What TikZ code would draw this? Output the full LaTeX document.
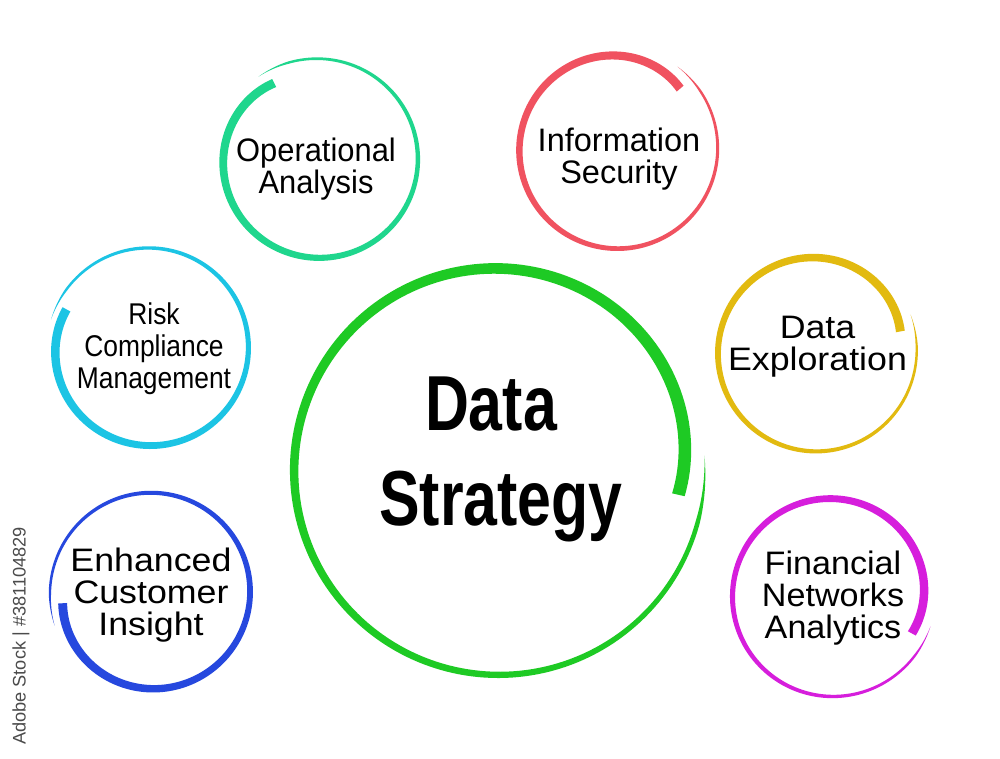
\documentclass[tikz,border=0pt]{standalone}
\usepackage{fontspec}
\setmainfont{Liberation Sans}
\newfontfamily\ringfont{Liberation Sans}
\newfontfamily\hubfont[FakeStretch=0.78]{Liberation Sans}
\usepackage{xcolor}
\definecolor{hubgreen}{RGB}{30,202,36}
\definecolor{opsteal}{RGB}{31,214,141}
\definecolor{secred}{RGB}{240,82,96}
\definecolor{riskcyan}{RGB}{28,196,228}
\definecolor{explgold}{RGB}{226,186,16}
\definecolor{enhblue}{RGB}{38,72,222}
\definecolor{finpink}{RGB}{214,30,220}
\definecolor{stockgray}{RGB}{75,75,75}

% brush ring: centre, radius, start angle, sweep, colour, curl, drift, thick width, thin width
\newcommand{\brushring}[9]{%
  \fill[#5, shift={(#1)}]
    plot[variable=\t, domain=0:1, samples=200]
      ({#3+#4*\t}:{#2-#6*exp(-\t/0.12)+#7*\t*\t*\t*\t+0.5*(#8-(#8-#9)*\t)*min(1,(1-\t)/0.05)})
    -- plot[variable=\t, domain=1:0, samples=200]
      ({#3+#4*\t}:{#2-#6*exp(-\t/0.12)+#7*\t*\t*\t*\t-0.5*(#8-(#8-#9)*\t)*min(1,(1-\t)/0.05)})
    -- cycle;
}

\tikzset{
  lbl/.style 2 args={align=center, inner sep=0pt,
    font=\ringfont\addfontfeatures{FakeStretch=#1}\fontsize{#2}{32}\selectfont},
  hub/.style={align=center, inner sep=0pt,
    font=\hubfont\bfseries\fontsize{78}{95}\selectfont}
}

\begin{document}
\begin{tikzpicture}[x=1pt, y=1pt]
    \useasboundingbox (0,0) rectangle (1000,758);
    \fill[white] (0,0) rectangle (1000,758);

    % ring centres
    \coordinate (hub-c) at (498,288);
    \coordinate (ops-c) at (319,598);
    \coordinate (sec-c) at (617,608);
    \coordinate (risk-c) at (150,410);
    \coordinate (expl-c) at (815,405);
    \coordinate (enh-c) at (152,166);
    \coordinate (fin-c) at (831,162);

    \brushring{hub-c}{204}{-8}{372}{hubgreen}{22}{3}{13}{4}
    \brushring{ops-c}{98}{120}{366}{opsteal}{9}{5}{9}{2}
    \brushring{sec-c}{98}{44}{370}{secred}{10}{5}{9}{2}
    \brushring{risk-c}{98}{155}{369}{riskcyan}{6}{5}{9}{2}
    \brushring{expl-c}{97}{14}{368}{explgold}{9}{6}{9}{2}
    \brushring{enh-c}{98}{187}{372}{enhblue}{8}{5}{9}{2}
    \brushring{fin-c}{98}{-25}{368}{finpink}{9}{6}{9}{2}

    \node [hub] (hub) at (501,298.5) {Data\hspace*{20pt}\\Strategy};
    \node [lbl={0.95}{32.5}] (ops) at (316,588.5) {Operational\\Analysis};
    \node [lbl={1.0}{32.5}] (sec) at (619,599) {Information\\Security};
    \node [lbl={0.88}{30}] (risk) at (154,409.5) {Risk\\Compliance\\Management};
    \node [lbl={1.1}{32.5}] (expl) at (817.5,411.5) {Data\\Exploration};
    \node [lbl={1.1}{32.5}] (enh) at (151,163) {Enhanced\\Customer\\Insight};
    \node [lbl={1.05}{32.5}] (fin) at (833,159.5) {Financial\\Networks\\Analytics};

    \node [rotate=90, text=stockgray, font=\fontsize{18.2}{18.2}\selectfont] (stock) at (21,122) {Adobe Stock | \#381104829};
\end{tikzpicture}
\end{document}
